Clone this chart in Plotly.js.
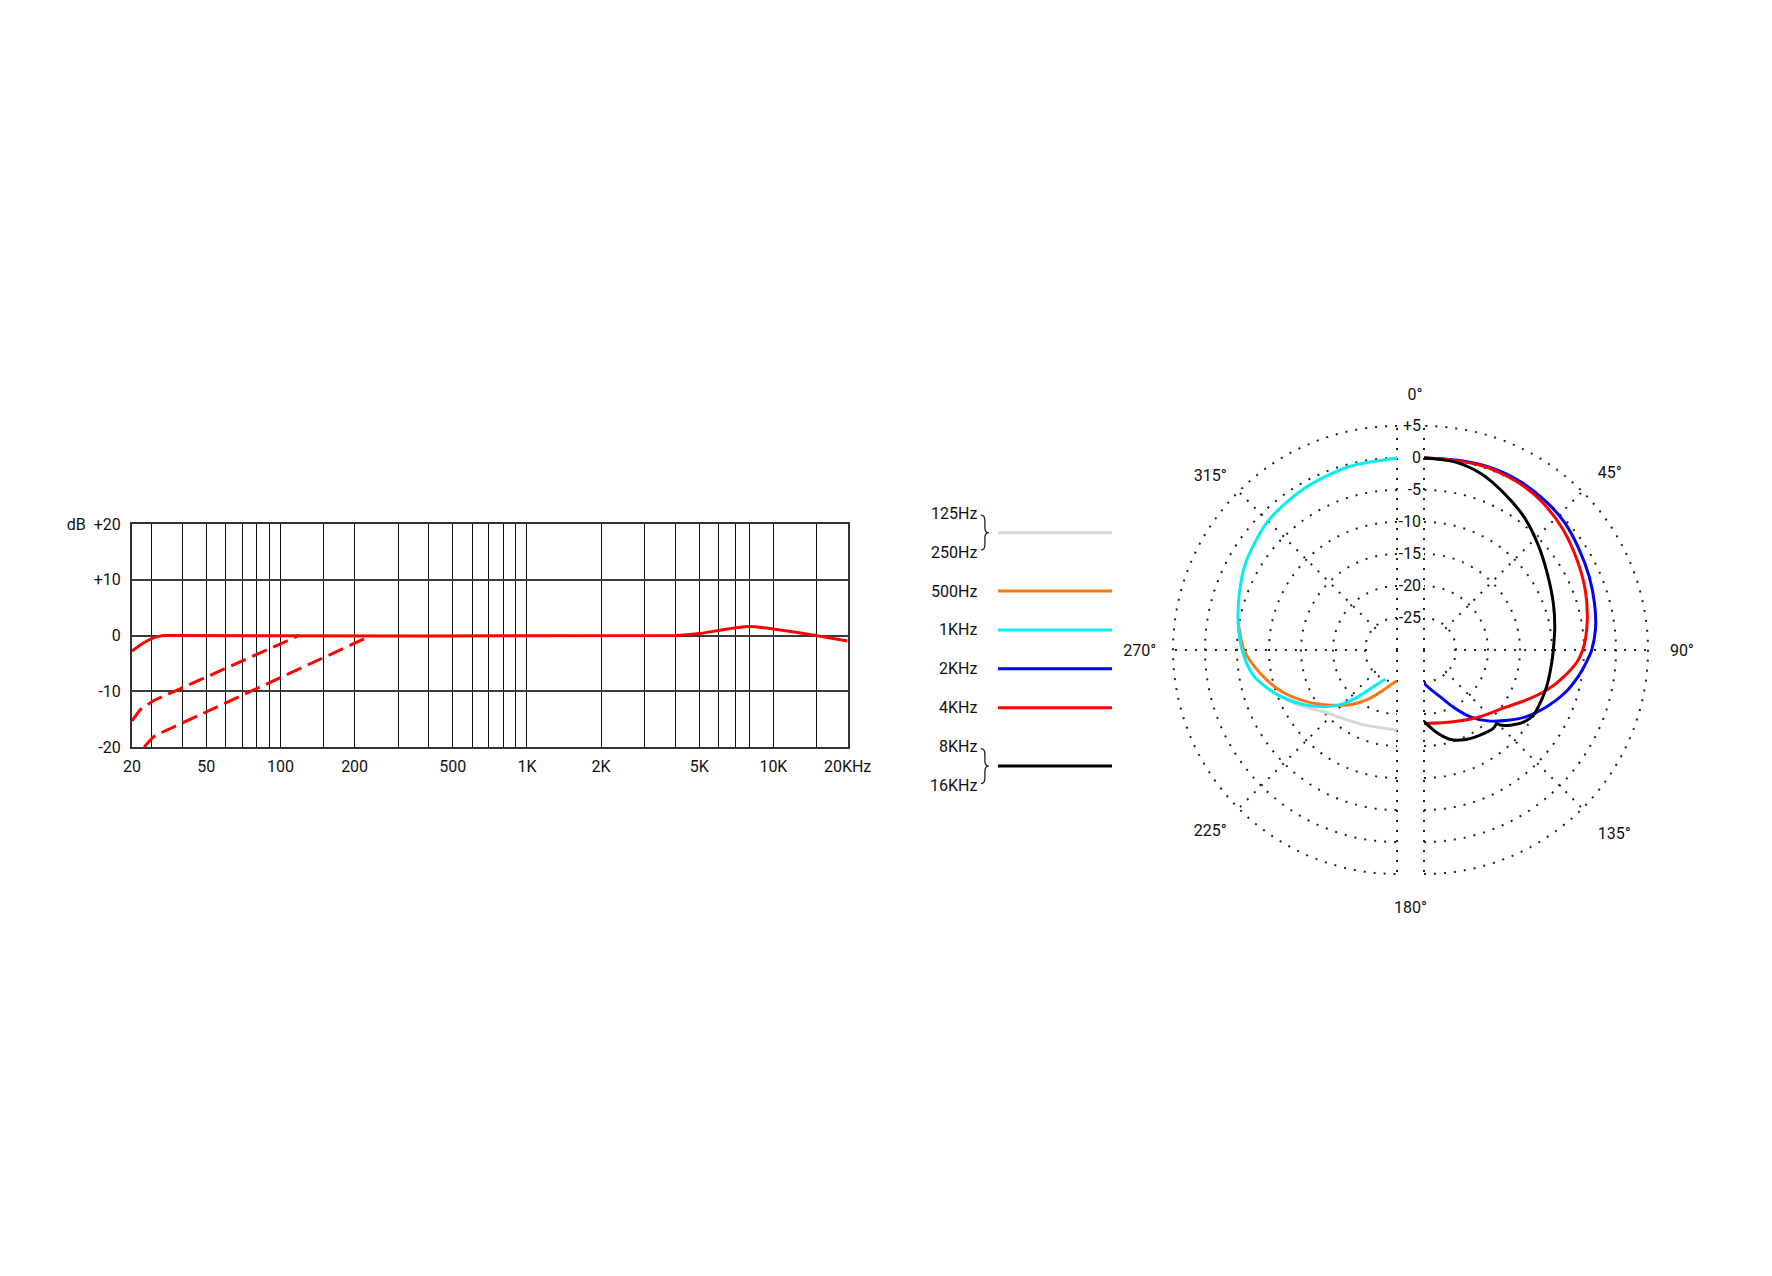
<!DOCTYPE html>
<html><head><meta charset="utf-8">
<script src="https://cdn.plot.ly/plotly-3.0.1.min.js"></script>
<style>html,body{margin:0;padding:0;background:#fff;}</style>
</head><body>
<div id="chart" style="width:1772px;height:1276px;"></div>
<script>
// ---------- Frequency response (left chart) ----------
const freqTickVals = [25, 30, 40, 50, 60, 70, 80, 90, 100, 150, 200, 300, 400, 500, 600, 700, 800, 900, 1000, 2000, 3000, 4000, 5000, 6000, 7000, 8000, 10000, 15000, 20000];
const freqTickText = ['20','','','50','','','','','100','','200','','','500','','','','','1K','2K','','','5K','','','','10K','','20KHz'];
const dbTickVals = [-20, -10, 0, 10, 20];
const dbTickText = ['-20', '-10', '0', '+10', 'dB  +20'];
const respFreq = [25, 27, 29, 31, 33, 35, 4000, 5000, 8000, 20000];
const respDb   = [-2.8, -1.7, -0.9, -0.35, -0.05, 0, 0, 0.35, 1.6, -1.0];
const cut1Freq = [25, 27, 30.5, 119];
const cut1Db   = [-15.3, -13.3, -11.7, 0];
const cut2Freq = [28, 30.5, 33, 234];
const cut2Db   = [-20, -18.2, -17.4, 0];

// ---------- Polar pattern ----------
const ringVals = [-25, -20, -15, -10, -5, 0, 5];
const ringText = ['-25', '-20', '-15', '-10', '-5', '0', '+5'];
const rightAngleVals = [45, 90, 135];
const rightAngleText = ['45°', '90°', '135°'];
const leftAngleVals = [-135, -90, -45];          // = 225°, 270°, 315°
const leftAngleText = ['225°', '270°', '315°'];
const axisAngleVals = [0, 180];                  // vertical axis through the centre
const axisAngleText = ['0°\u2007\u2007', '180°\u2007\u2007\u2007'];

const gray125Theta = [250, 245, 240, 230, 220, 204, 190, 180];
const gray125R     = [-10.0, -11.3, -12.6, -15.0, -16.2, -17.2, -17.6, -17.5];
const orange500Theta = [280, 270, 260, 250, 240, 230, 220, 210, 200, 190, 180];
const orange500R     = [-4.8, -6.1, -8.4, -10.9, -13.8, -16.6, -18.9, -21.2, -23.2, -24.5, -25.2];
const cyan1kTheta = [360, 345, 330, 315, 300, 290, 280, 270, 260, 250, 240, 232, 226, 220, 213, 207, 201];
const cyan1kR     = [0, -0.4, -0.9, -1.5, -2.7, -3.8, -4.8, -5.8, -7.2, -9.9, -13.0, -15.6, -17.7, -20.4, -23.1, -24.4, -25.1];
const blue2kTheta = [0, 10, 20, 30, 40, 48, 57, 66, 75, 83, 90, 94, 100, 107, 115, 123, 130, 138, 145, 153, 161, 170, 180];
const blue2kR     = [0, 0.1, 0.35, 0.3, 0.0, -0.35, -1.1, -1.75, -2.4, -3.0, -3.8, -4.5, -5.6, -7.0, -8.9, -10.9, -12.9, -15.1, -17.2, -20.0, -22.3, -23.7, -24.8];
const red4kTheta = [0, 9, 19, 30, 39, 49, 60, 70, 79, 86, 90, 94, 101, 108, 116, 126, 140, 158, 180];
const red4kR     = [0, 0, 0.2, 0, -0.45, -1.25, -2.3, -3.15, -4.0, -4.7, -5.2, -5.9, -7.8, -9.8, -12.2, -14.6, -16.4, -17.9, -18.5];
const black8kTheta = [0, 9, 18, 27, 37, 47, 58, 70, 80, 90, 96, 107, 115, 121, 126, 131, 134.6, 135.3, 138.5, 147, 156, 164, 171, 180];
const black8kR     = [0, -0.2, -1.05, -2.5, -4.0, -5.7, -7.3, -8.5, -9.25, -9.8, -9.95, -10.0, -10.05, -10.1, -10.8, -12.1, -13.3, -13.8, -13.65, -14.1, -14.65, -15.5, -16.9, -18.8];

// ---------- Legend ----------
const legendLabels = [['125Hz', '250Hz'], ['500Hz'], ['1KHz'], ['2KHz'], ['4KHz'], ['8KHz', '16KHz']];
const legendColors = ['#d6d6d6', '#ff7410', '#00f0f0', '#0000ff', '#ff0000', '#000000'];

const C = {gray: legendColors[0], orange: legendColors[1], cyan: legendColors[2], blue: legendColors[3], red: legendColors[4], black: legendColors[5]};
const lineW = 3;
const FS = 16;

const traces = [];
// frequency response
traces.push({type:'scatter', x:cut1Freq, y:cut1Db, mode:'lines', line:{color:'#ff0000', width:3, dash:'16px,7px'}, xaxis:'x', yaxis:'y', hoverinfo:'skip'});
traces.push({type:'scatter', x:cut2Freq, y:cut2Db, mode:'lines', line:{color:'#ff0000', width:3, dash:'16px,7px'}, xaxis:'x', yaxis:'y', hoverinfo:'skip'});
traces.push({type:'scatter', x:respFreq, y:respDb, mode:'lines', line:{color:'#ff0000', width:3, shape:'spline', smoothing:0.6}, xaxis:'x', yaxis:'y', hoverinfo:'skip'});

// empty traces so the centre-axis subplots get drawn
traces.push({type:'scatterpolar', r:[], theta:[], mode:'lines', subplot:'polar', hoverinfo:'skip'});
traces.push({type:'scatterpolar', r:[], theta:[], mode:'lines', subplot:'polar2', hoverinfo:'skip'});

// polar halves (polar3 = right, polar4 = left)
function pol(theta, r, color, sub) {
  return {type:'scatterpolar', theta:theta, r:r, mode:'lines', line:{color:color, width:lineW, shape:'spline', smoothing:0.8}, subplot:sub, hoverinfo:'skip'};
}
traces.push(pol(gray125Theta, gray125R, C.gray, 'polar4'));
traces.push(pol(orange500Theta, orange500R, C.orange, 'polar4'));
traces.push(pol(cyan1kTheta, cyan1kR, C.cyan, 'polar4'));
traces.push(pol(blue2kTheta, blue2kR, C.blue, 'polar3'));
traces.push(pol(red4kTheta, red4kR, C.red, 'polar3'));
traces.push(pol(black8kTheta, black8kR, C.black, 'polar3'));

// legend
const annotations = [];
const shapes = [];
let row = 0;
legendLabels.forEach(function(labels, i) {
  const center = row + (labels.length - 1) / 2;
  traces.push({type:'scatter', x:[0, 1], y:[center, center], mode:'lines', line:{color:legendColors[i], width:3}, xaxis:'x3', yaxis:'y3', hoverinfo:'skip'});
  labels.forEach(function(lab, k) {
    annotations.push({xref:'x3', yref:'y3', x:-0.17, y:row + k, text:lab, showarrow:false, xanchor:'right', yanchor:'middle', font:{size:FS, color:'#111'}});
  });
  if (labels.length === 2) {
    const y0 = row + 0.05, y1 = row + 1 - 0.05, ym = center;
    const xt = -0.15, xs = -0.115, xp = -0.08;
    const p = 'M ' + xt + ',' + y0 + ' Q ' + xs + ',' + y0 + ' ' + xs + ',' + (y0 + 0.15) +
      ' L ' + xs + ',' + (ym - 0.13) + ' Q ' + xs + ',' + ym + ' ' + xp + ',' + ym +
      ' Q ' + xs + ',' + ym + ' ' + xs + ',' + (ym + 0.13) +
      ' L ' + xs + ',' + (y1 - 0.15) + ' Q ' + xs + ',' + y1 + ' ' + xt + ',' + y1;
    shapes.push({type:'path', xref:'x3', yref:'y3', path:p, line:{color:'#222', width:1.3}});
  }
  row += labels.length;
});

const W = 1772, H = 1276;
const gridDot = '2px,8px';
const RMIN = -25.3, RMAX = 5.5, RCENTRE = -30;
const holeFrac = (RMIN - RCENTRE) / (RMAX - RCENTRE);
const R = 227.2;   // px radius of the +5.5 dB edge
const cy = 650, cxRight = 1424, cxLeft = 1397;

function angAx(vals, text, showLabels, len) {
  return {direction:'clockwise', rotation:90, tickmode:'array', tickvals:vals, ticktext:text,
    showline:false, showgrid:true, gridcolor:'#222', gridwidth:2, griddash:gridDot, showticklabels:showLabels,
    ticks:'outside', ticklen:len, tickcolor:'rgba(0,0,0,0)', tickfont:{size:FS, color:'#111'}};
}
function radAx(range, grid, showLabels) {
  return {range:range, tickmode:'array', tickvals:ringVals, ticktext:ringText, angle:90, tickangle:90,
    side:'counterclockwise', showline:false, showgrid:grid, gridcolor:'#222', gridwidth:2, griddash:gridDot,
    ticks:'', showticklabels:showLabels, tickfont:{size:FS, color:'#111'}};
}
const domY = [1 - (cy + R)/H, 1 - (cy - R)/H];
const domRight = [cxRight/W, (cxRight + R)/W];
const domLeft = [(cxLeft - R)/W, cxLeft/W];

const layout = {
  width:W, height:H, margin:{l:0, r:0, t:0, b:0}, paper_bgcolor:'#fff', plot_bgcolor:'#fff', showlegend:false,
  font:{family:'Roboto, sans-serif', size:FS, color:'#111'},
  xaxis:{type:'log', domain:[132/W, 847.6/W], range:[Math.log10(25), Math.log10(20000)], tickmode:'array',
    tickvals:freqTickVals, ticktext:freqTickText, showgrid:true, gridcolor:'#111', gridwidth:1,
    showline:true, mirror:true, linecolor:'#333', linewidth:2, zeroline:false,
    ticks:'outside', ticklen:4, tickcolor:'rgba(0,0,0,0)', tickfont:{size:FS}, anchor:'y'},
  yaxis:{domain:[1 - 747/H, 1 - 524/H], range:[-20, 20], tickmode:'array', tickvals:dbTickVals, ticktext:dbTickText,
    showgrid:true, gridcolor:'#3a3a3a', gridwidth:2, showline:true, mirror:true, linecolor:'#333', linewidth:2,
    zeroline:false, ticks:'outside', ticklen:6, tickcolor:'rgba(0,0,0,0)', tickfont:{size:FS}, anchor:'x'},
  xaxis3:{domain:[884/W, 1134.8/W], range:[-1, 1.2], visible:false, anchor:'y3'},
  yaxis3:{domain:[1 - 824.45/H, 1 - 474.35/H], range:[8, -1], visible:false, anchor:'x3'},
  // centre vertical lines (full length, through the centre)
  polar:{domain:{x:domRight, y:domY}, sector:[-90, 90], bgcolor:'rgba(0,0,0,0)',
    angularaxis:angAx(axisAngleVals, axisAngleText, true, 16), radialaxis:radAx([RCENTRE, RMAX], false, false)},
  polar2:{domain:{x:domLeft, y:domY}, sector:[90, 270], bgcolor:'rgba(0,0,0,0)',
    angularaxis:angAx([-180, 0], ['', ''], false, 16), radialaxis:radAx([RCENTRE, RMAX], false, false)},
  // rings, spokes and curves
  polar3:{domain:{x:domRight, y:domY}, sector:[-90, 90], hole:holeFrac, bgcolor:'rgba(0,0,0,0)',
    angularaxis:angAx(rightAngleVals, rightAngleText, true, 15), radialaxis:radAx([RMIN, RMAX], true, true)},
  polar4:{domain:{x:domLeft, y:domY}, sector:[90, 270], hole:holeFrac, bgcolor:'rgba(0,0,0,0)',
    angularaxis:angAx(leftAngleVals, leftAngleText, true, 10), radialaxis:radAx([RMIN, RMAX], true, false)},
  annotations:annotations,
  shapes:shapes
};

Plotly.newPlot('chart', traces, layout, {staticPlot:true, displayModeBar:false});
</script>
</body></html>
